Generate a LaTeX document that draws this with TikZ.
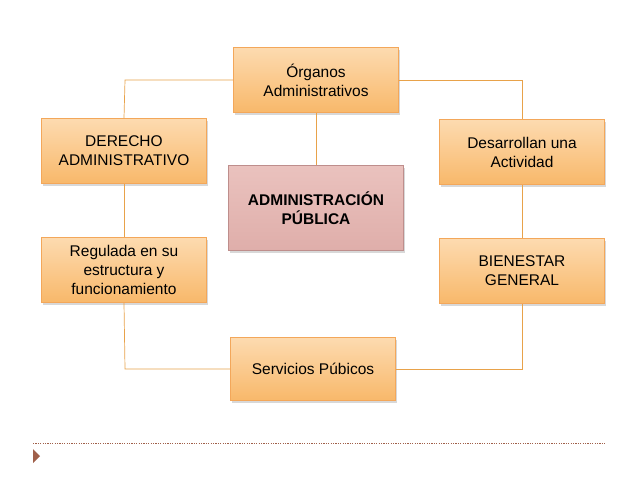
\documentclass[tikz,border=0pt]{standalone}
\usepackage{fontspec}
\setmainfont{Liberation Sans}
\usetikzlibrary{shadows}
\definecolor{boxfill}{HTML}{FCCB8E}
\definecolor{boxfillb}{HTML}{F8B86A}
\definecolor{boxedge}{HTML}{F3A75A}
\definecolor{ctrfill}{HTML}{EAC2BE}
\definecolor{ctrfillb}{HTML}{DFAEAA}
\definecolor{ctredge}{HTML}{BE8E8C}
\definecolor{linkcol}{HTML}{E8A24A}
\definecolor{brownish}{HTML}{A0604A}
\begin{document}
\begin{tikzpicture}[x=1pt,y=-1pt,
  obox/.style={draw=boxedge, line width=0.6pt, top color=boxfill!70!white, bottom color=boxfillb,
    minimum width=165pt, minimum height=65pt, align=center, inner sep=2pt,
    font=\fontsize{15.5}{19}\selectfont,
    drop shadow={shadow xshift=1.5pt, shadow yshift=-2pt, opacity=0.3}},
  cbox/.style={draw=ctredge, line width=0.6pt, top color=ctrfill, bottom color=ctrfillb,
    minimum width=175pt, minimum height=85pt, align=center, inner sep=2pt,
    font=\fontsize{15.5}{19}\selectfont\bfseries,
    drop shadow={shadow xshift=1.5pt, shadow yshift=-2pt, opacity=0.3}},
  link/.style={draw=linkcol, line width=0.7pt}]
\useasboundingbox (0,0) rectangle (638,479);
\fill[white] (0,0) rectangle (638,479);
\coordinate (tl) at (125,80);
\coordinate (tr) at (522,80);
\coordinate (bl) at (125,369);
\coordinate (br) at (522,369);
\node[obox] (org) at (316,80) {Órganos\\Administrativos};
\node[obox] (der) at (124,151) {DERECHO\\ADMINISTRATIVO};
\node[obox] (des) at (522,152) {Desarrollan una\\Actividad};
\node[cbox] (adm) at (316,208) {ADMINISTRACIÓN\\PÚBLICA};
\node[obox] (reg) at (124,270) {Regulada en su\\estructura y\\funcionamiento};
\node[obox] (bie) at (522,271) {BIENESTAR\\GENERAL};
\node[obox, minimum height=63pt] (ser) at (313,369) {Servicios Púbicos};
\draw[link] (org.west) -- (tl) -- (der.north);
\draw[link] (org.east) -- (tr) -- (des.north);
\draw[link] (org.south) -- (adm.north);
\draw[link] (der.south) -- (reg.north);
\draw[link] (des.south) -- (bie.north);
\draw[link] (reg.south) -- (bl) -- (ser.west);
\draw[link] (bie.south) -- (br) -- (ser.east);
\coordinate (fl) at (33,443);
\coordinate (fr) at (605,443);
\draw[brownish, line width=0.6pt, dash pattern=on 1.2pt off 1.2pt] (fl) -- (fr);
\fill[brownish] (33,449) -- (40,456) -- (33,463) -- cycle;
\end{tikzpicture}
\end{document}
